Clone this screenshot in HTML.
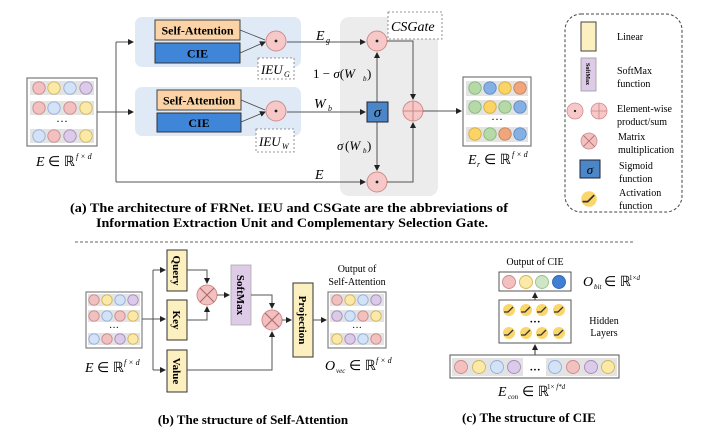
<!DOCTYPE html>
<html><head><meta charset="utf-8"><style>
html,body{margin:0;padding:0;background:#fff;}
svg{display:block;}
.t{font-family:"Liberation Serif",serif;}
.b{font-weight:bold;}
.i{font-style:italic;}
.cr{fill:#f3c0c0;stroke:#c98b8b;stroke-width:0.9}
.cy{fill:#fbe9a8;stroke:#d4b45a;stroke-width:0.9}
.cb{fill:#d3e2f7;stroke:#8fb0db;stroke-width:0.9}
.cp{fill:#dccbe8;stroke:#a68bbd;stroke-width:0.9}
</style></head><body>
<svg width="720" height="435" viewBox="0 0 720 435" xmlns="http://www.w3.org/2000/svg" class="t">
<defs>
<marker id="ar" markerWidth="6" markerHeight="6" refX="5" refY="3" orient="auto" markerUnits="userSpaceOnUse"><path d="M0,0 L6,3 L0,6 z" fill="#222"/></marker>
<g id="odot"><circle r="10" fill="#f6c8c8" stroke="#d08c8c" stroke-width="1"/><circle r="1.4" fill="#222"/></g>
<g id="oplus"><circle r="10" fill="#f6c8c8" stroke="#d08c8c" stroke-width="1"/><path d="M-10,0H10M0,-10V10" stroke="#c88" stroke-width="1"/></g>
<g id="otimes"><circle r="10" fill="#f2c0c0" stroke="#d08c8c" stroke-width="1"/><path d="M-7,-7L7,7M7,-7L-7,7" stroke="#a66" stroke-width="1"/></g>
<g id="act"><circle r="6" fill="#fad66b"/><path d="M-5,2H-1L4,-3" stroke="#333" stroke-width="1.3" fill="none"/></g>
</defs>

<!-- ===== (a) ===== -->
<rect x="27" y="78" width="70" height="68" fill="#fff" stroke="#777" stroke-width="1.2"/>
<rect x="30" y="81" width="64" height="14" fill="#e3e3e3"/>
<rect x="30" y="101" width="64" height="14" fill="#e3e3e3"/>
<rect x="30" y="129" width="64" height="14" fill="#e3e3e3"/>
<circle cx="39" cy="88" r="6.2" class="cr"/><circle cx="54" cy="88" r="6.2" class="cy"/><circle cx="70" cy="88" r="6.2" class="cb"/><circle cx="86" cy="88" r="6.2" class="cp"/>
<circle cx="39" cy="108" r="6.2" class="cr"/><circle cx="54" cy="108" r="6.2" class="cb"/><circle cx="70" cy="108" r="6.2" class="cr"/><circle cx="86" cy="108" r="6.2" class="cy"/>
<circle cx="39" cy="136" r="6.2" class="cb"/><circle cx="54" cy="136" r="6.2" class="cr"/><circle cx="70" cy="136" r="6.2" class="cp"/><circle cx="86" cy="136" r="6.2" class="cy"/>
<text x="62" y="125" font-size="12" text-anchor="middle">···</text>
<text x="36" y="166" font-size="14" class="i">E</text><text x="48" y="166" font-size="14">∈ ℝ</text><text x="76" y="159" font-size="8" class="i">f × d</text>

<rect x="135" y="17" width="166" height="50" rx="7" fill="#dfeaf6"/>
<rect x="135" y="87" width="166" height="49" rx="7" fill="#dfeaf6"/>
<rect x="340" y="17" width="98" height="179" rx="9" fill="#ececec"/>

<path d="M97,112H116M116,42V182" stroke="#555" stroke-width="1" fill="none"/>
<path d="M116,42H133" stroke="#555" stroke-width="1" marker-end="url(#ar)"/>
<path d="M116,112H133" stroke="#555" stroke-width="1" marker-end="url(#ar)"/>
<path d="M116,182H365" stroke="#555" stroke-width="1" marker-end="url(#ar)"/>

<rect x="155" y="20" width="85" height="20" fill="#fbd3a6" stroke="#444" stroke-width="1"/>
<text x="197.5" y="34.5" font-size="12" class="b" text-anchor="middle">Self-Attention</text>
<rect x="155" y="43" width="85" height="20" fill="#3f86d9" stroke="#333" stroke-width="1"/>
<text x="197.5" y="57.5" font-size="12" class="b" text-anchor="middle">CIE</text>
<path d="M240,30L265,40M240,53L265,42" stroke="#444" stroke-width="0.8" fill="none" marker-end="url(#ar)"/>
<use href="#odot" x="276" y="41"/>
<rect x="258" y="58" width="36" height="21" fill="#fff" stroke="#777" stroke-width="0.8" stroke-dasharray="2,2"/>
<text x="261" y="74" font-size="13" class="i">IEU</text><text x="284" y="77" font-size="8" class="i">G</text>

<rect x="157" y="90" width="84" height="20" fill="#fbd3a6" stroke="#444" stroke-width="1"/>
<text x="199" y="104.5" font-size="12" class="b" text-anchor="middle">Self-Attention</text>
<rect x="157" y="113" width="84" height="19" fill="#3f86d9" stroke="#333" stroke-width="1"/>
<text x="199" y="127" font-size="12" class="b" text-anchor="middle">CIE</text>
<path d="M241,100L265,110M241,122L265,112" stroke="#444" stroke-width="0.8" fill="none" marker-end="url(#ar)"/>
<use href="#odot" x="276" y="111"/>
<rect x="256" y="129" width="38" height="23" fill="#fff" stroke="#777" stroke-width="0.8" stroke-dasharray="2,2"/>
<text x="259" y="146" font-size="13" class="i">IEU</text><text x="282" y="149" font-size="8" class="i">W</text>

<rect x="388" y="12" width="54" height="27" fill="#fff" stroke="#777" stroke-width="0.8" stroke-dasharray="2,2"/>
<text x="391" y="31" font-size="14" class="i">CSGate</text>
<path d="M287,42H365" stroke="#555" stroke-width="1" marker-end="url(#ar)"/>
<path d="M287,112H365" stroke="#555" stroke-width="1" marker-end="url(#ar)"/>
<path d="M377,102V53" stroke="#555" stroke-width="1" marker-end="url(#ar)"/>
<path d="M377,122V170" stroke="#555" stroke-width="1" marker-end="url(#ar)"/>
<use href="#odot" x="377" y="41"/>
<use href="#odot" x="377" y="182"/>
<rect x="367" y="102" width="21" height="20" fill="#4b86c8" stroke="#223" stroke-width="1"/>
<text x="377.5" y="117" font-size="15" class="i" text-anchor="middle">σ</text>
<path d="M387,41H413V99" stroke="#555" stroke-width="1" fill="none" marker-end="url(#ar)"/>
<path d="M387,182H413V123" stroke="#555" stroke-width="1" fill="none" marker-end="url(#ar)"/>
<use href="#oplus" x="413" y="111"/>
<path d="M423,111H461" stroke="#555" stroke-width="1" marker-end="url(#ar)"/>
<text x="316" y="40" font-size="14" class="i">E</text><text x="326" y="43" font-size="8" class="i">g</text>
<text x="313" y="78" font-size="13">1 − <tspan class="i">σ</tspan>(<tspan class="i">W</tspan></text><text x="363" y="81" font-size="7" class="i">b</text><text x="367" y="78" font-size="13">)</text>
<text x="314" y="108" font-size="14" class="i">W</text><text x="328" y="111" font-size="8" class="i">b</text>
<text x="337" y="150" font-size="13" class="i">σ</text><text x="345" y="150" font-size="13">(<tspan class="i">W</tspan></text><text x="363" y="153" font-size="7" class="i">b</text><text x="367" y="150" font-size="13">)</text>
<text x="315" y="179" font-size="14" class="i">E</text>

<rect x="463" y="77" width="68" height="69" fill="#fff" stroke="#777" stroke-width="1.2"/>
<rect x="466" y="81" width="62" height="15" fill="#e3e3e3"/>
<rect x="466" y="100" width="62" height="15" fill="#e3e3e3"/>
<rect x="466" y="127" width="62" height="15" fill="#e3e3e3"/>
<g stroke-width="0.9">
<circle cx="475" cy="88" r="6.2" fill="#b5daa8" stroke="#85b878"/><circle cx="490" cy="88" r="6.2" fill="#86b0e4" stroke="#5a8cc8"/><circle cx="505" cy="88" r="6.2" fill="#fcd466" stroke="#d4ad40"/><circle cx="520" cy="88" r="6.2" fill="#eea67a" stroke="#c98258"/>
<circle cx="475" cy="107" r="6.2" fill="#b5daa8" stroke="#85b878"/><circle cx="490" cy="107" r="6.2" fill="#fcd466" stroke="#d4ad40"/><circle cx="505" cy="107" r="6.2" fill="#b5daa8" stroke="#85b878"/><circle cx="520" cy="107" r="6.2" fill="#86b0e4" stroke="#5a8cc8"/>
<circle cx="475" cy="134" r="6.2" fill="#fcd466" stroke="#d4ad40"/><circle cx="490" cy="134" r="6.2" fill="#b5daa8" stroke="#85b878"/><circle cx="505" cy="134" r="6.2" fill="#eea67a" stroke="#c98258"/><circle cx="520" cy="134" r="6.2" fill="#86b0e4" stroke="#5a8cc8"/>
</g>
<text x="497" y="123" font-size="12" text-anchor="middle">···</text>
<text x="468" y="164" font-size="14" class="i">E</text><text x="477" y="167" font-size="8" class="i">r</text><text x="484" y="164" font-size="14">∈ ℝ</text><text x="512" y="157" font-size="8" class="i">f × d</text>

<text x="70" y="212" font-size="13" class="b" textLength="438" lengthAdjust="spacingAndGlyphs">(a)  The architecture of  FRNet. IEU and CSGate are the abbreviations of</text>
<text x="96" y="227" font-size="13" class="b" textLength="392" lengthAdjust="spacingAndGlyphs">Information Extraction Unit and Complementary Selection Gate.</text>

<!-- legend -->
<rect x="565" y="14" width="117" height="198" rx="16" fill="#fff" stroke="#444" stroke-width="1" stroke-dasharray="3,2"/>
<rect x="581" y="22" width="15" height="29" fill="#fcefc0" stroke="#444" stroke-width="1"/>
<text x="617" y="40" font-size="10">Linear</text>
<rect x="581" y="58" width="15" height="33" fill="#ddcbe7" stroke="#999" stroke-width="0.8"/>
<text transform="translate(586,74) rotate(90)" font-size="6" class="b" text-anchor="middle">SoftMax</text>
<text x="617" y="74" font-size="10">SoftMax</text><text x="617" y="87" font-size="10">function</text>
<g transform="translate(575,111) scale(0.8)"><use href="#odot"/></g>
<g transform="translate(599,111) scale(0.8)"><use href="#oplus"/></g>
<text x="617" y="112" font-size="10">Element-wise</text><text x="617" y="125" font-size="10">product/sum</text>
<g transform="translate(589,141) scale(0.8)"><use href="#otimes"/></g>
<text x="618" y="140" font-size="10">Matrix</text><text x="618" y="153" font-size="10">multiplication</text>
<rect x="580" y="160" width="20" height="18" fill="#4b86c8" stroke="#223" stroke-width="1"/>
<text x="590" y="174" font-size="13" class="i" text-anchor="middle">σ</text>
<text x="619" y="169" font-size="10">Sigmoid</text><text x="619" y="182" font-size="10">function</text>
<g transform="translate(589,199) scale(1.3)"><use href="#act"/></g>
<text x="619" y="196" font-size="10">Activation</text><text x="619" y="209" font-size="10">function</text>

<line x1="75" y1="242" x2="635" y2="242" stroke="#666" stroke-width="1" stroke-dasharray="3,2"/>

<!-- ===== (b) ===== -->
<rect x="86" y="292" width="56" height="56" fill="#fff" stroke="#777" stroke-width="1.1"/>
<rect x="88" y="294" width="52" height="12" fill="#e3e3e3"/>
<rect x="88" y="310" width="52" height="12" fill="#e3e3e3"/>
<rect x="88" y="333" width="52" height="12" fill="#e3e3e3"/>
<circle cx="94" cy="300" r="5.2" class="cr"/><circle cx="107" cy="300" r="5.2" class="cy"/><circle cx="120" cy="300" r="5.2" class="cb"/><circle cx="133" cy="300" r="5.2" class="cp"/>
<circle cx="94" cy="316" r="5.2" class="cr"/><circle cx="107" cy="316" r="5.2" class="cb"/><circle cx="120" cy="316" r="5.2" class="cr"/><circle cx="133" cy="316" r="5.2" class="cy"/>
<circle cx="94" cy="339" r="5.2" class="cb"/><circle cx="107" cy="339" r="5.2" class="cr"/><circle cx="120" cy="339" r="5.2" class="cp"/><circle cx="133" cy="339" r="5.2" class="cy"/>
<text x="114" y="331" font-size="10" text-anchor="middle">···</text>
<text x="85" y="372" font-size="14" class="i">E</text><text x="97" y="372" font-size="14">∈ ℝ</text><text x="124" y="365" font-size="8" class="i">f × d</text>

<path d="M142,319H153M153,270V370" stroke="#555" stroke-width="1" fill="none"/>
<path d="M153,270H165" stroke="#555" stroke-width="1" marker-end="url(#ar)"/>
<path d="M153,319H165" stroke="#555" stroke-width="1" marker-end="url(#ar)"/>
<path d="M153,370H165" stroke="#555" stroke-width="1" marker-end="url(#ar)"/>
<rect x="167" y="250" width="20" height="41" fill="#fcefc0" stroke="#333" stroke-width="1"/>
<text transform="translate(173,270.5) rotate(90)" font-size="11" class="b" text-anchor="middle">Query</text>
<rect x="167" y="300" width="20" height="40" fill="#fcefc0" stroke="#333" stroke-width="1"/>
<text transform="translate(173,320) rotate(90)" font-size="11" class="b" text-anchor="middle">Key</text>
<rect x="167" y="350" width="20" height="42" fill="#fcefc0" stroke="#333" stroke-width="1"/>
<text transform="translate(173,371) rotate(90)" font-size="11" class="b" text-anchor="middle">Value</text>
<path d="M187,270H207V283" stroke="#555" stroke-width="1" fill="none" marker-end="url(#ar)"/>
<path d="M187,320H207V307" stroke="#555" stroke-width="1" fill="none" marker-end="url(#ar)"/>
<use href="#otimes" x="207" y="295"/>
<path d="M217,295H229" stroke="#555" stroke-width="1" marker-end="url(#ar)"/>
<rect x="231" y="265" width="20" height="60" fill="#ddcbe7" stroke="#aaa" stroke-width="0.8"/>
<text transform="translate(237,295) rotate(90)" font-size="11" class="b" text-anchor="middle">SoftMax</text>
<path d="M251,295H272V308" stroke="#555" stroke-width="1" fill="none" marker-end="url(#ar)"/>
<path d="M187,370H272V332" stroke="#555" stroke-width="1" fill="none" marker-end="url(#ar)"/>
<use href="#otimes" x="272" y="320"/>
<path d="M282,320H291" stroke="#555" stroke-width="1" marker-end="url(#ar)"/>
<rect x="293" y="283" width="20" height="74" fill="#fcefc0" stroke="#333" stroke-width="1"/>
<text transform="translate(299,320) rotate(90)" font-size="11" class="b" text-anchor="middle">Projection</text>
<path d="M313,320H326" stroke="#555" stroke-width="1" marker-end="url(#ar)"/>
<text x="357" y="272" font-size="10" text-anchor="middle">Output of</text>
<text x="357" y="285" font-size="10" text-anchor="middle">Self-Attention</text>
<rect x="328" y="292" width="58" height="56" fill="#fff" stroke="#777" stroke-width="1.1"/>
<rect x="330" y="294" width="54" height="12" fill="#e3e3e3"/>
<rect x="330" y="310" width="54" height="12" fill="#e3e3e3"/>
<rect x="330" y="333" width="54" height="12" fill="#e3e3e3"/>
<circle cx="337" cy="300" r="5.2" class="cr"/><circle cx="350" cy="300" r="5.2" class="cy"/><circle cx="363" cy="300" r="5.2" class="cb"/><circle cx="376" cy="300" r="5.2" class="cp"/>
<circle cx="337" cy="316" r="5.2" class="cp"/><circle cx="350" cy="316" r="5.2" class="cb"/><circle cx="363" cy="316" r="5.2" class="cr"/><circle cx="376" cy="316" r="5.2" class="cy"/>
<circle cx="337" cy="339" r="5.2" class="cy"/><circle cx="350" cy="339" r="5.2" class="cp"/><circle cx="363" cy="339" r="5.2" class="cb"/><circle cx="376" cy="339" r="5.2" class="cr"/>
<text x="357" y="331" font-size="10" text-anchor="middle">···</text>
<text x="325" y="370" font-size="14" class="i">O</text><text x="336" y="373" font-size="7" class="i">vec</text><text x="349" y="370" font-size="14">∈ ℝ</text><text x="376" y="363" font-size="8" class="i">f × d</text>
<text x="253" y="424" font-size="13" class="b" text-anchor="middle">(b) The structure of Self-Attention</text>

<!-- ===== (c) ===== -->
<text x="535" y="265" font-size="10" text-anchor="middle">Output of  CIE</text>
<rect x="499" y="272" width="72" height="19" fill="#fff" stroke="#555" stroke-width="1"/>
<circle cx="509" cy="282" r="6.5" class="cr"/>
<circle cx="526" cy="282" r="6.5" class="cy"/>
<circle cx="542" cy="282" r="6.5" fill="#cfe6c6" stroke="#95c088" stroke-width="0.9"/>
<circle cx="559" cy="282" r="6.5" fill="#3f7fd4" stroke="#2f66b0" stroke-width="0.9"/>
<text x="583" y="286" font-size="14" class="i">O</text><text x="594" y="289" font-size="7" class="i">bit</text><text x="604" y="286" font-size="14">∈ ℝ</text><text x="629" y="280" font-size="7">1×<tspan class="i">d</tspan></text>
<path d="M535,300V293" stroke="#333" stroke-width="1" marker-end="url(#ar)"/>
<rect x="499" y="300" width="72" height="43" fill="#fff" stroke="#555" stroke-width="1"/>
<use href="#act" x="509" y="310"/><use href="#act" x="526" y="310"/><use href="#act" x="542" y="310"/><use href="#act" x="559" y="310"/>
<use href="#act" x="509" y="333"/><use href="#act" x="526" y="333"/><use href="#act" x="542" y="333"/><use href="#act" x="559" y="333"/>
<text x="535" y="325" font-size="11" text-anchor="middle" class="b">···</text>
<text x="604" y="324" font-size="10" text-anchor="middle">Hidden</text>
<text x="604" y="336" font-size="10" text-anchor="middle">Layers</text>
<path d="M535,355V345" stroke="#333" stroke-width="1" marker-end="url(#ar)"/>
<rect x="450" y="355" width="169" height="23" fill="#fff" stroke="#555" stroke-width="1"/>
<rect x="452" y="358" width="71" height="18" fill="#e3e3e3"/>
<rect x="546" y="358" width="71" height="18" fill="#e3e3e3"/>
<circle cx="461" cy="367" r="6.5" class="cr"/><circle cx="479" cy="367" r="6.5" class="cy"/><circle cx="497" cy="367" r="6.5" class="cb"/><circle cx="514" cy="367" r="6.5" class="cp"/>
<circle cx="555" cy="367" r="6.5" class="cb"/><circle cx="573" cy="367" r="6.5" class="cr"/><circle cx="591" cy="367" r="6.5" class="cp"/><circle cx="608" cy="367" r="6.5" class="cy"/>
<text x="535" y="373" font-size="11" text-anchor="middle" class="b">···</text>
<text x="498" y="396" font-size="14" class="i">E</text><text x="508" y="399" font-size="7" class="i">con</text><text x="522" y="396" font-size="14">∈ ℝ</text><text x="547" y="389" font-size="7">1× <tspan class="i">f*d</tspan></text>
<text x="462" y="422" font-size="13" class="b">(c) The structure of CIE</text>
</svg>
</body></html>
